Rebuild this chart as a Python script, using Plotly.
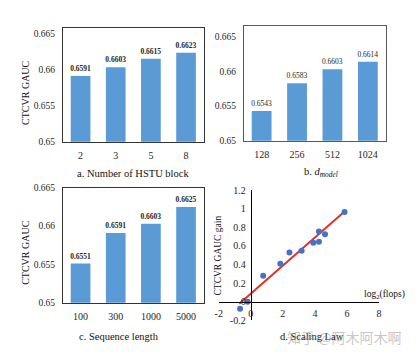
import plotly.graph_objects as go

W, H = 420, 360


def fx(p):
    return p / W


def fy(p):
    return 1 - p / H


# ---------------- data ----------------
hstu_blocks = ["2", "3", "5", "8"]
hstu_gauc = [0.6591, 0.6603, 0.6615, 0.6623]

d_model = ["128", "256", "512", "1024"]
d_model_gauc = [0.6543, 0.6583, 0.6603, 0.6614]

seq_len = ["100", "300", "1000", "5000"]
seq_gauc = [0.6551, 0.6591, 0.6603, 0.6625]

flops_log2 = [-0.67, -0.2, 0.77, 1.84, 2.41, 3.17, 3.9, 4.25, 4.25, 4.63, 5.85]
gauc_gain = [-0.075, 0.0, 0.28, 0.41, 0.53, 0.55, 0.635, 0.645, 0.755, 0.725, 0.965]

fit_x = [-0.72, 5.85]
fit_y = [-0.02, 0.97]

bar_tickvals = [0.65, 0.655, 0.66, 0.665]
bar_ticktext = ["0.65", "0.655", "0.66", "0.665"]

d_xtickvals = [-2, 0, 2, 4, 6, 8]
d_xticktext = ["-2", "0", "2", "4", "6", "8"]
d_ytickvals = [-0.2, 0, 0.2, 0.4, 0.6, 0.8, 1.0, 1.2]
d_yticktext = ["-0.2", "0", "0.2", "0.4", "0.6", "0.8", "1", "1.2"]

# ---------------- style ----------------
SERIF = "Liberation Serif, Times New Roman, serif"
BAR_COLOR = "#5B9BD5"
TXT = "#262626"

fig = go.Figure()


def add_bars(cats, vals, xa, ya, bold):
    fig.add_trace(go.Bar(
        x=cats, y=vals, xaxis=xa, yaxis=ya,
        marker=dict(color=BAR_COLOR, line=dict(width=0)),
        texttemplate="%{y:.4f}", textposition="outside",
        textfont=dict(family=SERIF, size=7.5, color=TXT,
                      weight="bold" if bold else "normal"),
        constraintext="none", cliponaxis=False, showlegend=False,
        hoverinfo="skip",
    ))


add_bars(hstu_blocks, hstu_gauc, "x", "y", True)
add_bars(d_model, d_model_gauc, "x2", "y2", False)
add_bars(seq_len, seq_gauc, "x3", "y3", True)

fig.add_trace(go.Scatter(
    x=fit_x, y=fit_y, xaxis="x4", yaxis="y4", mode="lines",
    line=dict(color="#E0302A", width=2), showlegend=False, hoverinfo="skip",
))
fig.add_trace(go.Scatter(
    x=flops_log2, y=gauc_gain, xaxis="x4", yaxis="y4", mode="markers",
    marker=dict(color="#4472C4", size=6), showlegend=False, hoverinfo="skip",
))


def bar_xaxis(domain, anchor, linecolor):
    return dict(domain=domain, anchor=anchor, type="category",
                showline=True, mirror=True, linecolor=linecolor, linewidth=1,
                showgrid=False, ticks="", ticklabelstandoff=4,
                tickfont=dict(family=SERIF, size=10, color=TXT))


def bar_yaxis(domain, anchor, rng, linecolor):
    return dict(domain=domain, anchor=anchor, range=rng,
                showline=True, mirror=True, linecolor=linecolor, linewidth=1,
                showgrid=False, zeroline=False, ticks="",
                tickvals=bar_tickvals, ticktext=bar_ticktext,
                ticklabelstandoff=5,
                tickfont=dict(family=SERIF, size=9.5, color=TXT))


dom_a_x = [fx(60), fx(203)]
dom_a_y = [fy(140), fy(23)]
dom_b_x = [fx(244), fx(388)]
dom_b_y = [fy(139), fy(21)]
dom_c_x = [fx(60), fx(203)]
dom_c_y = [fy(306), fy(187.5)]
dom_d_x = [fx(218.4), fx(381.4)]
dom_d_y = [fy(324.3), fy(190)]

d_xrange = [-2, 8]
d_yrange = [-0.2, 1.2]
# positions of the crossing axes (x axis at y=0, y axis at x=0)
d_x_axis_pos = dom_d_y[0] + (0 - d_yrange[0]) / (d_yrange[1] - d_yrange[0]) * (dom_d_y[1] - dom_d_y[0])
d_y_axis_pos = dom_d_x[0] + (0 - d_xrange[0]) / (d_xrange[1] - d_xrange[0]) * (dom_d_x[1] - dom_d_x[0])

fig.update_layout(
    width=W, height=H,
    margin=dict(l=0, r=0, t=0, b=0),
    paper_bgcolor="white", plot_bgcolor="white",
    bargap=0.44,
    xaxis=bar_xaxis(dom_a_x, "y", "#333333"),
    yaxis=bar_yaxis(dom_a_y, "x", [0.65, 0.6657], "#333333"),
    xaxis2=bar_xaxis(dom_b_x, "y2", "#595959"),
    yaxis2=bar_yaxis(dom_b_y, "x2", [0.65, 0.6665], "#595959"),
    xaxis3=bar_xaxis(dom_c_x, "y3", "#333333"),
    yaxis3=bar_yaxis(dom_c_y, "x3", [0.65, 0.665], "#333333"),
    xaxis4=dict(domain=dom_d_x, anchor="free", position=d_x_axis_pos,
                range=d_xrange, showline=True, linecolor="#000000", linewidth=1.2,
                showgrid=False, zeroline=False, ticks="",
                tickvals=d_xtickvals, ticktext=d_xticktext, ticklabelstandoff=2,
                tickfont=dict(family=SERIF, size=10, color=TXT)),
    yaxis4=dict(domain=dom_d_y, anchor="free", position=d_y_axis_pos,
                range=d_yrange, showline=True, linecolor="#000000", linewidth=1.2,
                showgrid=False, zeroline=False, ticks="",
                tickvals=d_ytickvals, ticktext=d_yticktext, ticklabelstandoff=3,
                tickfont=dict(family=SERIF, size=10, color=TXT)),
)

ann = []


def text(x, y, s, size=10.5, angle=0, xanchor="center", color="#111111", family=SERIF):
    ann.append(dict(x=fx(x), y=fy(y), xref="paper", yref="paper", text=s,
                    showarrow=False, textangle=angle, xanchor=xanchor,
                    yanchor="middle", font=dict(family=family, size=size, color=color)))


text(131, 173, "a. Number of HSTU block")
text(322, 172, "b. <i>d</i><sub><i>model</i></sub>")
text(117, 341, "c. Sequence length")
text(313, 341, "d. Scaling Law")
text(22, 89, "CTCVR GAUC", size=10, angle=-90)
text(22, 254, "CTCVR GAUC", size=10, angle=-90)
text(218, 257, "CTCVR GAUC gain", size=9.5, angle=-90)
text(387, 298, "log<sub>2</sub>(flops)", size=9.5)
text(286, 341, "知乎 @阿木阿木啊", size=14, xanchor="left",
     color="rgba(150,150,150,0.55)", family="Noto Sans CJK SC")

fig.update_layout(annotations=ann)

fig.write_html("out.html", config={"displayModeBar": False},
               post_script="document.body.style.margin='0';")
